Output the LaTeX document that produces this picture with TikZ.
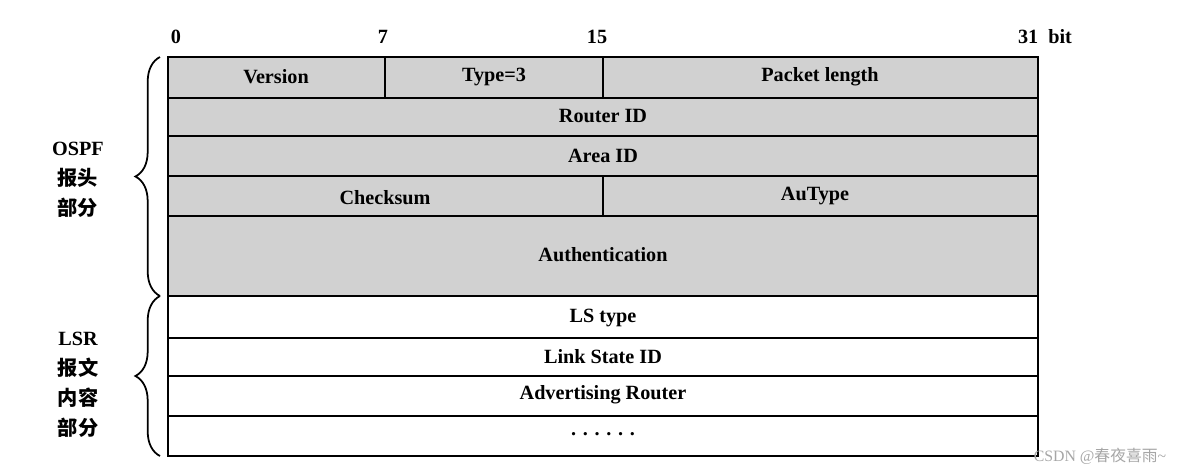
\documentclass[tikz,border=0pt]{standalone}
\usepackage{fontspec}
\setmainfont{Liberation Serif}
\newfontfamily\cjk{Noto Sans CJK SC}
\usetikzlibrary{decorations.pathreplacing}
\begin{document}
\begin{tikzpicture}[x=0.02cm,y=-0.02cm,
  cell/.style={draw,line width=0.9pt},
  gray/.style={cell,fill=black!18},
  lbl/.style={font=\fontsize{11.5}{13}\selectfont\bfseries},
  side/.style={font=\fontsize{11.5}{17}\selectfont\bfseries,align=center},
  br/.style={decorate,decoration={brace,amplitude=14pt},line width=1pt}]
\useasboundingbox (0,0) rectangle (1200,474);
% header cells
\draw[gray] (168,57) rectangle (385,98);
\draw[gray] (385,57) rectangle (603,98);
\draw[gray] (603,57) rectangle (1038,98);
\draw[gray] (168,98) rectangle (1038,136);
\draw[gray] (168,136) rectangle (1038,176);
\draw[gray] (168,176) rectangle (603,216);
\draw[gray] (603,176) rectangle (1038,216);
\draw[gray] (168,216) rectangle (1038,296);
\draw[cell] (168,296) rectangle (1038,338);
\draw[cell] (168,338) rectangle (1038,376);
\draw[cell] (168,376) rectangle (1038,416);
\draw[cell] (168,416) rectangle (1038,456);
\node[lbl] (v) at (276,77) {Version};
\node[lbl] (t) at (494,77) {Type=3};
\node[lbl] (pl) at (820,77) {Packet length};
\node[lbl] (r) at (603,116) {Router ID};
\node[lbl] (a) at (603,156) {Area ID};
\node[lbl] (c) at (385,198) {Checksum};
\node[lbl] (au) at (815,196) {AuType};
\node[lbl] (auth) at (603,255) {Authentication};
\node[lbl] (ls) at (603,318) {LS type};
\node[lbl] (lid) at (603,357) {Link State ID};
\node[lbl] (ar) at (603,395) {Advertising Router};
\node[lbl] (d) at (603,434) {. . . . . .};
\node[lbl] (b0) at (176,37) {0};
\node[lbl] (b7) at (383,37) {7};
\node[lbl] (b15) at (597,37) {15};
\node[lbl] (b31) at (1045,37) {31\ \ bit};
\coordinate (u1) at (160,296); \coordinate (u2) at (160,57);
\coordinate (l1) at (160,456); \coordinate (l2) at (160,296);
\draw[br] (u1) -- (u2);
\draw[br] (l1) -- (l2);
\node[side] (o) at (78,180) {OSPF\\{\cjk 报头}\\{\cjk 部分}};
\node[side] (s) at (78,385) {LSR\\{\cjk 报文}\\{\cjk 内容}\\{\cjk 部分}};
\node[text=black!35,font=\fontsize{9}{10}\selectfont] (w) at (1100,456) {CSDN @{\cjk 春夜喜雨}\textasciitilde};
\end{tikzpicture}
\end{document}
